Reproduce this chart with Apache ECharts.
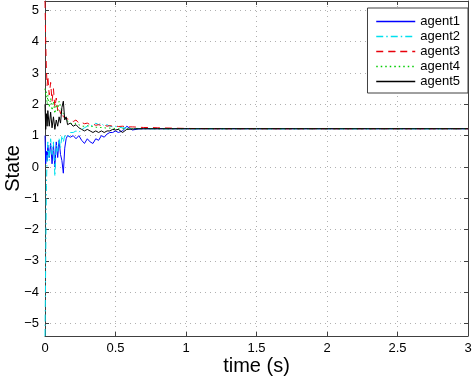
<!DOCTYPE html>
<html>
<head>
<meta charset="utf-8">
<script src="https://cdn.jsdelivr.net/npm/echarts@6/dist/echarts.min.js"></script>
<style>
html, body { margin: 0; padding: 0; background: #fff; }
#chart { width: 474px; height: 378px; }
</style>
</head>
<body>
<div id="chart"></div>
<script>
// 时间轴 (s)
var time = [0, 0.005, 0.01, 0.015, 0.02, 0.03, 0.04, 0.05, 0.06, 0.07,
            0.08, 0.09, 0.10, 0.11, 0.12, 0.13, 0.14, 0.15, 0.16, 0.18,
            0.20, 0.22, 0.24, 0.26, 0.28, 0.30, 0.32, 0.34, 0.36, 0.38,
            0.40, 0.42, 0.44, 0.46, 0.48, 0.50, 0.52, 0.55, 0.58, 0.62,
            0.66, 0.70, 0.75, 0.80, 0.90, 1.0, 1.2, 1.5, 2.0, 3.0];

var agent1 = [1.0, 0.1, 0.5, 0.2, 0.7, 0.3, 0.75, 0.1, 0.7, 0.0,
              0.8, 0.3, 0.85, 0.4, 0.2, -0.2, 0.6, 0.9, 1.0, 0.95,
              1.0, 0.9, 1.0, 0.85, 0.75, 0.9, 0.8, 0.75, 0.9, 0.85,
              1.0, 0.95, 1.05, 1.1, 1.1, 1.15, 1.1, 1.15, 1.3, 1.18,
              1.21, 1.22, 1.22, 1.22, 1.22, 1.22, 1.22, 1.22, 1.22, 1.22];
var agent2 = [-5.4, -3.0, -0.6, 0.3, 0.8, 0.2, 0.9, 0.4, 0.8, -0.3,
              0.7, 0.5, 0.9, 0.6, 1.0, 0.8, 1.0, 1.05, 0.95, 1.1,
              1.1, 1.15, 1.1, 1.2, 1.25, 1.3, 1.35, 1.3, 1.4, 1.35,
              1.4, 1.3, 1.35, 1.3, 1.28, 1.3, 1.27, 1.25, 1.24, 1.23,
              1.23, 1.22, 1.22, 1.22, 1.22, 1.22, 1.22, 1.22, 1.22, 1.22];
var agent3 = [5.3, 4.0, 3.1, 2.6, 2.9, 2.3, 2.7, 2.1, 2.5, 1.9,
              2.2, 1.8, 1.9, 1.7, 1.8, 1.6, 1.65, 1.55, 1.6, 1.5,
              1.45, 1.5, 1.4, 1.42, 1.38, 1.4, 1.35, 1.37, 1.33, 1.35,
              1.32, 1.34, 1.3, 1.32, 1.3, 1.31, 1.29, 1.3, 1.28, 1.28,
              1.27, 1.26, 1.26, 1.25, 1.24, 1.23, 1.22, 1.22, 1.22, 1.22];
var agent4 = [2.5, 2.3, 2.4, 2.0, 2.3, 1.9, 2.2, 1.8, 2.1, 1.7,
              2.0, 1.8, 2.1, 1.9, 1.8, 1.7, 1.6, 1.5, 1.45, 1.4,
              1.35, 1.4, 1.35, 1.3, 1.3, 1.32, 1.28, 1.3, 1.27, 1.26,
              1.26, 1.25, 1.24, 1.24, 1.23, 1.23, 1.22, 1.22, 1.22, 1.22,
              1.22, 1.22, 1.22, 1.22, 1.22, 1.22, 1.22, 1.22, 1.22, 1.22];
var agent5 = [2.0, 1.2, 1.7, 1.3, 1.8, 1.3, 1.75, 1.25, 1.6, 1.2,
              1.5, 1.3, 1.6, 1.4, 1.9, 2.1, 1.5, 1.6, 1.35, 1.4,
              1.3, 1.35, 1.25, 1.2, 1.15, 1.2, 1.15, 1.1, 1.15, 1.1,
              1.15, 1.1, 1.15, 1.15, 1.2, 1.18, 1.2, 1.1, 1.2, 1.21,
              1.22, 1.22, 1.22, 1.22, 1.22, 1.22, 1.22, 1.22, 1.22, 1.22];

var names = ['agent1', 'agent2', 'agent3', 'agent4', 'agent5'];
var yTicks = [-5, -4, -3, -2, -1, 0, 1, 2, 3, 4, 5];

var colors = ['#0000ff', '#00e0ee', '#e8000b', '#00cc00', '#000000'];
var dashes = ['solid', [7, 3, 1.5, 3], [7, 5], [1.5, 3], 'solid'];
var allData = [agent1, agent2, agent3, agent4, agent5];

function zip(ys) {
    var out = [];
    for (var i = 0; i < time.length; i++) out.push([time[i], ys[i]]);
    return out;
}

var FONT = '"Liberation Sans", Arial, sans-serif';
var axisColor = '#404040';
var gridLine = { show: true, lineStyle: { color: '#b0b0b0', type: [1, 4], width: 1 } };

var series = [];
for (var k = 0; k < names.length; k++) {
    series.push({
        name: names[k],
        type: 'line',
        showSymbol: false,
        symbol: 'none',
        animation: false,
        color: colors[k],
        lineStyle: { width: 1, color: colors[k], type: dashes[k] },
        data: zip(allData[k])
    });
}

var chart = echarts.init(document.getElementById('chart'));
var option = {
    animation: false,
    textStyle: { fontFamily: FONT },
    grid: { left: 45, right: 6, top: 1, bottom: 42, containLabel: false, outerBoundsMode: 'none' },
    legend: {
        orient: 'vertical',
        right: 6,
        top: 8,
        data: names,
        backgroundColor: '#fff',
        borderColor: axisColor,
        borderWidth: 1,
        padding: [7, 8, 5, 8],
        itemWidth: 39,
        itemHeight: 1,
        itemGap: 2,
        lineStyle: { width: 1.5 },
        textStyle: { fontFamily: FONT, fontSize: 13, color: '#000' }
    },
    xAxis: [{
        type: 'value',
        min: 0, max: 3, interval: 0.5,
        name: 'time (s)',
        nameLocation: 'middle',
        nameGap: 20,
        nameMoveOverlap: false,
        nameTextStyle: { fontFamily: FONT, fontSize: 20, color: '#000' },
        axisLine: { show: true, onZero: false, lineStyle: { color: axisColor } },
        axisTick: { show: true, inside: true, length: 4, lineStyle: { color: axisColor } },
        axisLabel: { fontFamily: FONT, fontSize: 13, color: '#000', margin: 6 },
        splitLine: gridLine
    }, {
        type: 'value', position: 'top',
        min: 0, max: 3, interval: 0.5,
        axisLine: { show: true, onZero: false, lineStyle: { color: axisColor } },
        axisTick: { show: true, inside: true, length: 4, lineStyle: { color: axisColor } },
        axisLabel: { show: false },
        splitLine: { show: false }
    }],
    yAxis: [{
        type: 'value',
        min: -5.4, max: 5.3,
        name: 'State',
        nameLocation: 'middle',
        nameGap: 22,
        nameMoveOverlap: false,
        nameTextStyle: { fontFamily: FONT, fontSize: 20, color: '#000' },
        axisLine: { show: true, onZero: false, lineStyle: { color: axisColor } },
        axisTick: { show: true, inside: true, length: 4, customValues: yTicks, lineStyle: { color: axisColor } },
        axisLabel: {
            fontFamily: FONT, fontSize: 13, color: '#000', margin: 6,
            customValues: yTicks,
            formatter: function (v) { return String(v).replace('-', '\u2212'); }
        },
        splitLine: gridLine
    }, {
        type: 'value', position: 'right',
        min: -5.4, max: 5.3,
        axisLine: { show: true, onZero: false, lineStyle: { color: axisColor } },
        axisTick: { show: true, inside: true, length: 4, customValues: yTicks, lineStyle: { color: axisColor } },
        axisLabel: { show: false, customValues: yTicks },
        splitLine: { show: false }
    }],
    series: series
};
chart.setOption(option);
</script>
</body>
</html>
